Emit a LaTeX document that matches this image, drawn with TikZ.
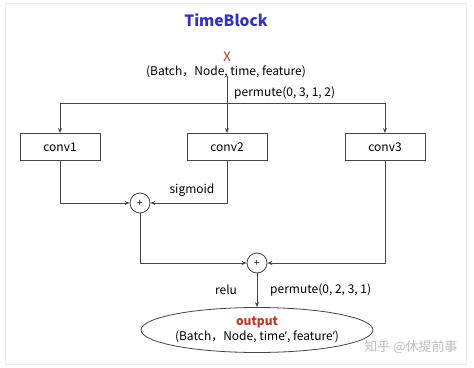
\documentclass[tikz,border=0pt]{standalone}
\usepackage{fontspec}
\setmainfont{Noto Sans CJK SC}
\newfontfamily\latinq{Noto Sans}
\newcommand{\pq}{{\latinq ’}}
\usetikzlibrary{arrows.meta,shapes.geometric}
\definecolor{titleblue}{RGB}{50,50,190}
\definecolor{xred}{RGB}{200,50,40}
\definecolor{linegray}{RGB}{70,70,70}
\tikzset{
  box/.style={draw=linegray, line width=0.8pt, minimum width=80pt, minimum height=27pt, inner sep=0pt, font=\fontsize{12}{14}\selectfont},
  plus/.style={circle, draw=linegray, line width=0.8pt, minimum size=20pt, inner sep=0pt, font=\fontsize{10}{11}\selectfont},
  conn/.style={draw=linegray, line width=0.8pt},
  arr/.style={conn, -{Stealth[length=5pt,width=4pt]}},
  lbl/.style={font=\fontsize{12}{14}\selectfont, inner sep=0pt}
}
\begin{document}
\begin{tikzpicture}[x=1pt,y=-1pt]
\useasboundingbox (0,0) rectangle (474,367);
\fill[white] (0,0) rectangle (474,367);
\draw[black!8, line width=0.8pt] (5,3) rectangle (466,364);
\node[font=\fontsize{15.5}{18}\selectfont\bfseries, text=titleblue] (title) at (226,20) {TimeBlock};
\node[inner sep=0pt, text=xred, font=\fontsize{13}{14}\selectfont] (x) at (227,57) {X};
\coordinate (top) at (227,76);
\coordinate (split) at (227,103);
\draw[conn] (top) -- (split);
\node[lbl] (xs) at (226,72) {(Batch，Node, time, feature)};
\node[box] (c1) at (60,147) {conv1};
\node[box] (c2) at (227,147) {conv2};
\node[box] (c3) at (385,147) {conv3};
\node[plus] (p1) at (140,203) {+};
\node[plus] (p2) at (257,263) {+};
\node[ellipse, draw=linegray, line width=0.8pt, minimum width=208pt, minimum height=45pt, inner sep=0pt, align=center, font=\fontsize{12}{15}\selectfont] (out) at (257,330) {\textcolor{xred}{\bfseries output}\\(Batch，Node, time\pq, feature\pq)};
% connectors
\draw[arr] (split) -- (c2.north);
\draw[conn] (split) -- (split -| c1) (split) -- (split -| c3);
\draw[arr] (split -| c1) -- (c1.north);
\draw[arr] (split -| c3) -- (c3.north);
\draw[arr] (c1.south) |- (p1.west);
\draw[arr] (c2.south) |- (p1.east);
\draw[arr] (p1.south) |- (p2.west);
\draw[arr] (c3.south) |- (p2.east);
\draw[arr] (p2.south) -- (out.north);
% labels
\node[lbl, anchor=west] (perm1) at (234,93) {permute(0, 3, 1, 2)};
\node[lbl] (sig) at (192,190) {sigmoid};
\node[lbl] (relu) at (226,290) {relu};
\node[lbl, anchor=west] (perm2) at (270,290) {permute(0, 2, 3, 1)};
\node[inner sep=0pt, text=black!25, font=\fontsize{13}{15}\selectfont] (wm) at (411,347) {知乎 @休提前事};
\end{tikzpicture}
\end{document}
